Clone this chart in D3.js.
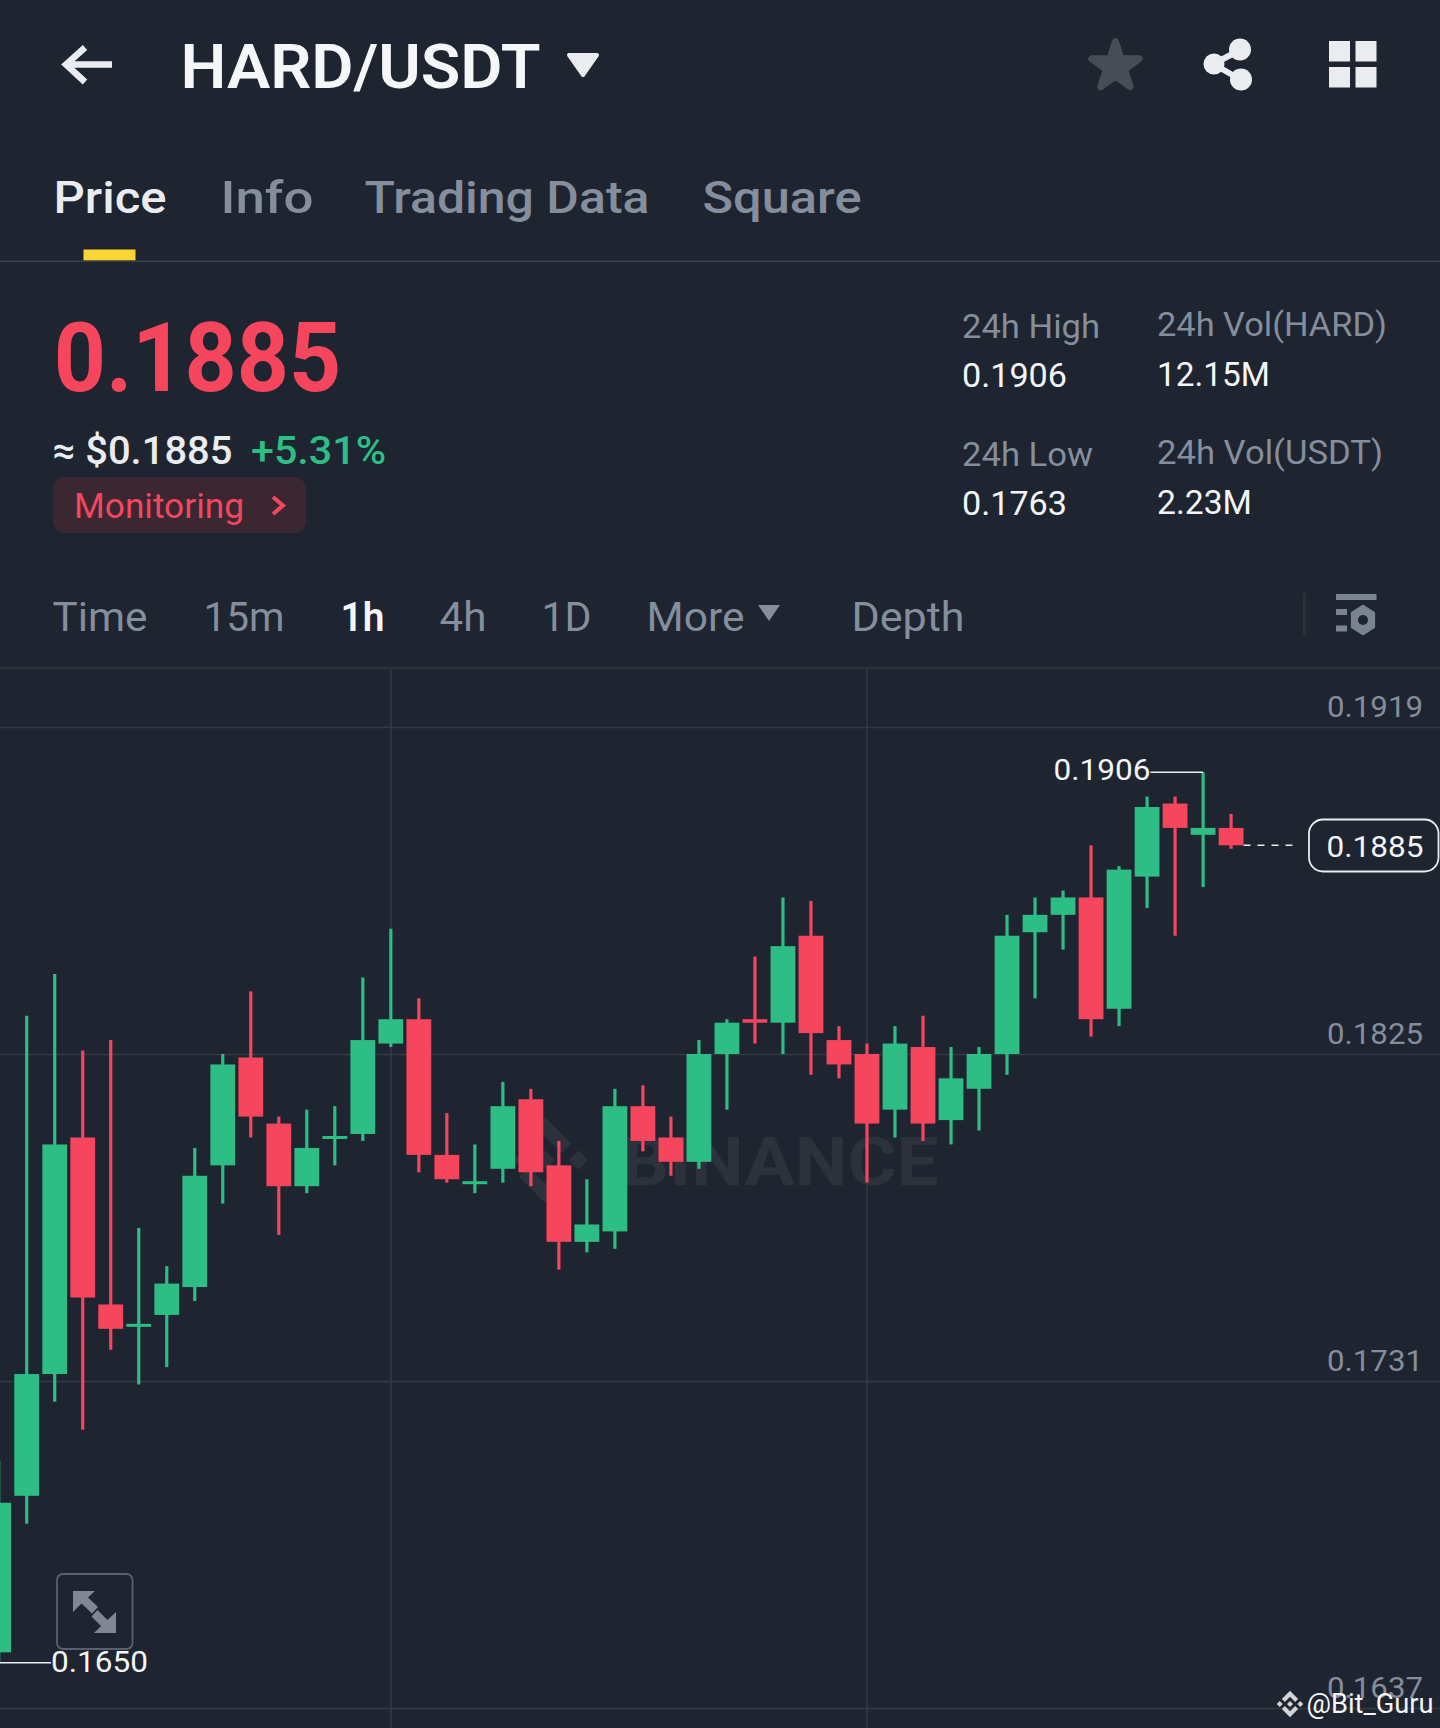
<!DOCTYPE html>
<html><head><meta charset="utf-8">
<script src="https://cdn.jsdelivr.net/npm/d3@7"></script>
<style>html,body{margin:0;padding:0;background:#1E2430;overflow:hidden}svg{display:block}text{font-family:Roboto,"Noto Sans",sans-serif}</style>
</head><body><svg id="c" width="1440" height="1728"></svg>
<script>
const highs  =[.1708,.1836,.1848,.1826,.1829,.1775,.1764,.1798,.1825,.1843,.1807,.1809,.1810,.1847,.1861,.1841,.1808,.1799,.1817,.1815,.1800,.1789,.1815,.1816,.1807,.1829,.1835,.1853,.1870,.1869,.1833,.1828,.1833,.1836,.1827,.1827,.1865,.1870,.1872,.1885,.1879,.1899,.1899,.1906,.1894];
const opens  =[.1653,.1698,.1733,.1801,.1753,.1747,.1750,.1758,.1793,.1824,.1805,.1787,.1801,.1802,.1828,.1835,.1796,.1788,.1792,.1812,.1793,.1771,.1774,.1810,.1801,.1794,.1825,.1835,.1834,.1859,.1829,.1825,.1809,.1827,.1806,.1815,.1825,.1860,.1865,.1870,.1838,.1876,.1897,.1888,.1890];
const closes =[.1696,.1733,.1799,.1755,.1746,.1747,.1759,.1790,.1822,.1807,.1787,.1798,.1801,.1829,.1835,.1796,.1789,.1788,.1810,.1791,.1771,.1776,.1810,.1800,.1794,.1825,.1834,.1834,.1856,.1831,.1822,.1805,.1828,.1805,.1818,.1825,.1859,.1865,.1870,.1835,.1878,.1896,.1890,.1890,.1885];
const lows   =[.1650,.1690,.1725,.1717,.1740,.1730,.1735,.1754,.1782,.1801,.1773,.1785,.1793,.1800,.1827,.1791,.1788,.1785,.1788,.1787,.1763,.1768,.1769,.1797,.1790,.1792,.1809,.1828,.1825,.1819,.1818,.1788,.1801,.1800,.1799,.1803,.1819,.1841,.1855,.1830,.1833,.1867,.1859,.1873,.1884];
const priceTicks=[.1919,.1825,.1731,.1637];
const timeTickIndexes=[14,31];
const lastPrice=.1885, maxPrice=.1906, minPrice=.1650;
const pairName="HARD/USDT";
const tabLabels=["Price","Info","Trading Data","Square"];
const intervalLabels=["Time","15m","1h","4h","1D","More","Depth"];
const statLabels=["24h High","24h Low","24h Vol(HARD)","24h Vol(USDT)"];
const statValues=["0.1906","0.1763","12.15M","2.23M"];

const UP="#2EBD85",DOWN="#F6465D",BG="#1E2430",TXT="#EAECEF",MUTED="#848E9C",GRID="#343A45";
const svg=d3.select("#c");
svg.append("rect").attr("width",1440).attr("height",1728).attr("fill",BG);
const fmt=d3.format(".4f");
const x=d3.scaleLinear().domain([0,44]).range([-1.8,1230.6]);
const y=d3.scaleLinear().domain([priceTicks[0],priceTicks[3]]).range([727,1708]);

function T(s,xp,yp,size,color,w,weight){
  const t=svg.append("text").attr("x",xp-1.5).attr("y",yp).attr("font-size",size).attr("fill",color).attr("font-weight",weight||400).text(s);
  if(w)t.attr("textLength",w+4).attr("lengthAdjust","spacingAndGlyphs");
  return t;
}
const LOGO="M38.73 53.2l24.59-24.58 24.6 24.6 14.3-14.31L63.32 0 24.43 38.9l14.3 14.3z M0 63.31l14.3-14.31 14.31 14.31-14.31 14.3z M38.73 73.41l24.59 24.59 24.6-24.6 14.31 14.29-38.9 38.91-38.91-38.88v-.03l14.31-14.28z M98 63.31l14.3-14.31 14.31 14.3-14.31 14.32z M77.83 63.3L63.32 48.78 52.59 59.51l-1.24 1.23-2.54 2.54 14.51 14.5 14.51-14.47z";
function logo(cx,cy,size,color){svg.append("path").attr("d",LOGO).attr("fill",color).attr("transform",`translate(${cx-size/2},${cy-size/2}) scale(${size/126.61})`);}

/* header */
svg.append("path").attr("d","M112 64.5H68M85 47.5L66 64.5L85 82").attr("fill","none").attr("stroke",TXT).attr("stroke-width",6.5);
T(pairName,182,87.5,61,"#F5F6F8",356,600);
svg.append("path").attr("d","M569 55H597L583 75Z").attr("fill",TXT).attr("stroke",TXT).attr("stroke-width",4).attr("stroke-linejoin","round");
const star=d3.symbol().type(d3.symbolStar).size(700);
svg.append("path").attr("d",star()).attr("transform","translate(1115.5,66.5)").attr("fill","#474D57").attr("stroke","#474D57").attr("stroke-width",7).attr("stroke-linejoin","round");
svg.append("path").attr("d","M1240 50L1213.5 64L1241 80").attr("fill","none").attr("stroke",TXT).attr("stroke-width",6);
[[1240,49.5,11],[1214,64,10.5],[1241,79.5,11]].forEach(c=>svg.append("circle").attr("cx",c[0]).attr("cy",c[1]).attr("r",c[2]).attr("fill",TXT));
[[1329,41],[1355.5,41],[1329,67],[1355.5,67]].forEach(c=>svg.append("rect").attr("x",c[0]).attr("y",c[1]).attr("width",21).attr("height",20.5).attr("fill",TXT));

/* tabs */
const tabX=[[55,109],[222,89],[366,281],[704,155]];
tabLabels.forEach((s,i)=>T(s,tabX[i][0],213,44,i?MUTED:TXT,tabX[i][1],500));
svg.append("rect").attr("x",83.5).attr("y",249.5).attr("width",52).attr("height",11).attr("fill","#FCD535");
svg.append("rect").attr("x",0).attr("y",260.5).attr("width",1440).attr("height",1.5).attr("fill","#3A404B");

/* price block */
T(fmt(lastPrice),55.2,390.5,97,DOWN,283.6,700);
T("≈ $"+fmt(lastPrice),54,464,39,TXT,176,500);
T("+5.31%",252.5,464,39,UP,131,500);
svg.append("rect").attr("x",53).attr("y",477).attr("width",253).attr("height",56).attr("rx",12).attr("fill","#3A2731");
T("Monitoring",75.5,518,35,DOWN,166,400);
svg.append("path").attr("d","M273 497L283 505.5L273 514").attr("fill","none").attr("stroke",DOWN).attr("stroke-width",4);

/* stats */
const statPos=[[963.5,337.5,134],[963.5,465.5,127],[1158.5,336,226],[1158.5,464,222]];
statLabels.forEach((s,i)=>T(s,statPos[i][0],statPos[i][1],34,MUTED,statPos[i][2]));
const valPos=[[963.5,387,101],[963.5,515,101],[1158.5,385.5,109],[1158.5,513.5,91]];
statValues.forEach((s,i)=>T(s,valPos[i][0],valPos[i][1],33,"#F5F6F8",valPos[i][2]));

/* intervals */
const ivX=[[54,91],[205,77],[342,40],[441,43],[543,46],[648,94],[853,109]];
intervalLabels.forEach((s,i)=>T(s,ivX[i][0],630.5,40,i==2?"#F5F6F8":MUTED,ivX[i][1],i==2?600:400));
svg.append("path").attr("d","M758 605H780L769 621Z").attr("fill",MUTED);
svg.append("rect").attr("x",1303).attr("y",593).attr("width",3).attr("height",42).attr("fill","#2B3139");
const IC="#7A8391";
svg.append("rect").attr("x",1336).attr("y",594).attr("width",40.5).attr("height",6).attr("fill",IC);
svg.append("rect").attr("x",1336).attr("y",609).attr("width",11).attr("height",6).attr("fill",IC);
svg.append("rect").attr("x",1336).attr("y",625.5).attr("width",11).attr("height",6).attr("fill",IC);
const hex=d3.range(6).map(i=>{const a=Math.PI/3*i-Math.PI/2;return (1363+14*Math.cos(a))+","+(620+15.5*Math.sin(a));}).join(" ");
svg.append("polygon").attr("points",hex).attr("fill",IC);
svg.append("circle").attr("cx",1363).attr("cy",620).attr("r",5).attr("fill",BG);

/* chart frame */
svg.append("rect").attr("x",0).attr("y",666.5).attr("width",1440).attr("height",3).attr("fill","#2B3039");
const vGrid=svg.append("g");
vGrid.selectAll("line").data(timeTickIndexes).join("line").attr("x1",d=>x(d)+.5).attr("x2",d=>x(d)+.5).attr("y1",670).attr("y2",1728).attr("stroke",GRID).attr("stroke-width",1.6);
const axis=svg.append("g").call(d3.axisRight(y).tickValues(priceTicks).tickFormat(fmt).tickSize(1440));
axis.select(".domain").remove();
axis.selectAll("line").attr("stroke",GRID).attr("stroke-width",1.6);
axis.selectAll("text").attr("x",1423).attr("dy",0).attr("y",-11).attr("text-anchor","end").attr("font-size",30).attr("fill",MUTED).attr("font-family","Roboto,sans-serif").attr("textLength",96).attr("lengthAdjust","spacingAndGlyphs");

/* watermark */
const WM="#2C313C";
logo(545,1160,86,WM);
T("BINANCE",623,1185,67,WM,313,700);

/* candles */
const idx=d3.range(highs.length);
const colorOf=i=>closes[i]<opens[i]?DOWN:UP;
const g=svg.append("g");
g.selectAll("line").data(idx).join("line").attr("x1",i=>x(i)+.5).attr("x2",i=>x(i)+.5).attr("y1",i=>y(highs[i])).attr("y2",i=>y(lows[i])).attr("stroke",colorOf).attr("stroke-width",3.2);
const bodyH=i=>Math.max(3,Math.abs(y(opens[i])-y(closes[i])));
g.selectAll("rect").data(idx).join("rect").attr("x",i=>x(i)-11.9).attr("width",24.8)
 .attr("y",i=>(y(opens[i])+y(closes[i]))/2-bodyH(i)/2)
 .attr("height",bodyH).attr("fill",colorOf);

/* annotations */
const hi=highs.indexOf(maxPrice);
svg.append("path").attr("d",`M${x(hi)+.5} ${y(maxPrice)}H1150.5`).attr("fill","none").attr("stroke",TXT).attr("stroke-width",1.6);
T(fmt(maxPrice),1055,780,30,"#F5F6F8",93);
svg.append("line").attr("x1",0).attr("x2",51).attr("y1",y(minPrice)).attr("y2",y(minPrice)).attr("stroke",TXT).attr("stroke-width",1.6);
T(fmt(minPrice),52.5,1671.5,30,"#F5F6F8",93);
svg.append("line").attr("x1",x(44)+12.9).attr("x2",1296).attr("y1",y(lastPrice)).attr("y2",y(lastPrice)).attr("stroke",TXT).attr("stroke-width",1.6).attr("stroke-dasharray","7 7");
svg.append("rect").attr("x",1309).attr("y",819.5).attr("width",129.5).attr("height",52).attr("rx",14).attr("fill",BG).attr("stroke",TXT).attr("stroke-width",1.8);
T(fmt(lastPrice),1328,856.5,30,"#F5F6F8",93);

/* expand button */
svg.append("rect").attr("x",57).attr("y",1574).attr("width",75.5).attr("height",75).attr("rx",6).attr("fill","none").attr("stroke","#5A616E").attr("stroke-width",1.8);
const EX="#7F8795";
svg.append("path").attr("d","M73 1591H95L88 1597.5L98 1607L92 1613.5L81.5 1603.5L73 1612Z").attr("fill",EX);
svg.append("path").attr("d","M116 1633H94L101 1626L91.5 1616.5L97.5 1610L107.5 1620L116 1612Z").attr("fill",EX);

/* credit */
logo(1290,1704,26.5,"#D4D4D4");
T("@Bit_Guru",1308,1713,28,"#F5F6F8",123);
</script></body></html>
